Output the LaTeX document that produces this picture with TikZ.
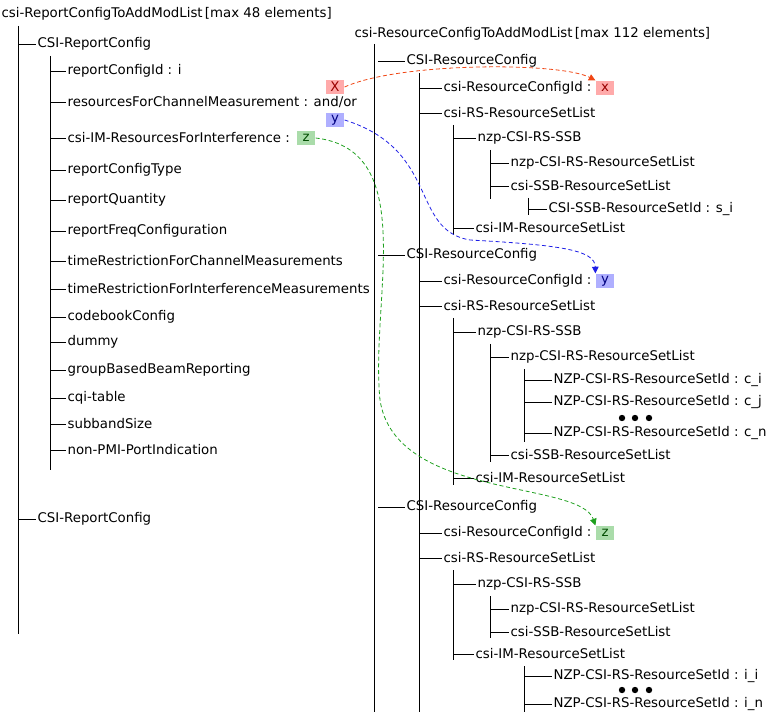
\documentclass[tikz,border=0pt]{standalone}
\usepackage{fontspec}
\setmainfont{DejaVu Sans}
\usetikzlibrary{arrows.meta}
\definecolor{bxr}{RGB}{255,170,170}
\definecolor{bxb}{RGB}{175,175,255}
\definecolor{bxg}{RGB}{170,220,170}
\definecolor{arr}{RGB}{240,70,20}
\definecolor{arb}{RGB}{30,30,230}
\definecolor{arg}{RGB}{30,160,30}
\tikzset{lbl/.style={anchor=west,inner sep=1pt,font=\fontsize{10}{11}\selectfont},
 tree/.style={line width=0.6pt},
 tag/.style={inner sep=1.5pt,minimum width=14pt,minimum height=11pt,font=\fontsize{10}{11}\selectfont},
 link/.style={densely dashed,line width=0.6pt,-{Triangle[length=5pt,width=5pt]}}}
\newcommand\tleaf[5]{\node[lbl] (#1) at (#4,#5) {#2}; \draw[tree] (#3,#5) -- (#1.west);}
\begin{document}
\begin{tikzpicture}[x=0.75pt,y=-0.75pt]
\useasboundingbox (0,0) rectangle (784,712);
% left tree
\node[lbl] (L) at (0,14) {csi-ReportConfigToAddModList\,[max 48 elements]};
\draw[tree] (18,26) -- (18,634);
\draw[tree] (50,56) -- (50,470);
\tleaf{rc1}{CSI-ReportConfig}{18}{36}{44}
\tleaf{l1}{reportConfigId : i}{50}{66}{71}
\tleaf{l2}{resourcesForChannelMeasurement : and/or}{50}{66}{102}
\tleaf{l3}{csi-IM-ResourcesForInterference :}{50}{66}{138}
\tleaf{l4}{reportConfigType}{50}{66}{170}
\tleaf{l5}{reportQuantity}{50}{66}{200}
\tleaf{l6}{reportFreqConfiguration}{50}{66}{231}
\tleaf{l7}{timeRestrictionForChannelMeasurements}{50}{66}{261}
\tleaf{l8}{timeRestrictionForInterferenceMeasurements}{50}{66}{289}
\tleaf{l9}{codebookConfig}{50}{66}{317}
\tleaf{l10}{dummy}{50}{66}{342}
\tleaf{l11}{groupBasedBeamReporting}{50}{66}{370}
\tleaf{l12}{cqi-table}{50}{66}{398}
\tleaf{l13}{subbandSize}{50}{66}{424}
\tleaf{l14}{non-PMI-PortIndication}{50}{66}{450}
\tleaf{rc2}{CSI-ReportConfig}{18}{36}{519}
\node[tag,fill=bxr,text=red!60!black] (xs) at (335,87) {X};
\node[tag,fill=bxb,text=blue!50!black] (ys) at (335,120) {y};
\node[tag,fill=bxg,text=green!30!black] (zs) at (306,138) {z};
% right tree
\node[lbl] (R) at (353,34) {csi-ResourceConfigToAddModList\,[max 112 elements]};
\draw[tree] (374,44) -- (374,712);
\draw[tree] (419,73) -- (419,712);
% group 1
\tleaf{g1}{CSI-ResourceConfig}{378}{405}{61}
\tleaf{g1a}{csi-ResourceConfigId :}{419}{442}{88}
\tleaf{g1b}{csi-RS-ResourceSetList}{419}{442}{113}
\draw[tree] (453,125) -- (453,235);
\tleaf{g1c}{nzp-CSI-RS-SSB}{453}{476}{138}
\draw[tree] (490,150) -- (490,199);
\tleaf{g1d}{nzp-CSI-RS-ResourceSetList}{490}{509}{163}
\tleaf{g1e}{csi-SSB-ResourceSetList}{490}{509}{186}
\draw[tree] (528,198) -- (528,215);
\tleaf{g1f}{CSI-SSB-ResourceSetId : s\_i}{528}{547}{209}
\tleaf{g1g}{csi-IM-ResourceSetList}{453}{474}{228}
% group 2
\tleaf{g2}{CSI-ResourceConfig}{378}{405}{255}
\tleaf{g2a}{csi-ResourceConfigId :}{419}{442}{281}
\tleaf{g2b}{csi-RS-ResourceSetList}{419}{442}{306}
\draw[tree] (453,318) -- (453,485);
\tleaf{g2c}{nzp-CSI-RS-SSB}{453}{476}{332}
\draw[tree] (490,344) -- (490,462);
\tleaf{g2d}{nzp-CSI-RS-ResourceSetList}{490}{509}{357}
\draw[tree] (524,369) -- (524,442);
\tleaf{g2e}{NZP-CSI-RS-ResourceSetId : c\_i}{524}{552}{380}
\tleaf{g2f}{NZP-CSI-RS-ResourceSetId : c\_j}{524}{552}{402}
\tleaf{g2g}{NZP-CSI-RS-ResourceSetId : c\_n}{524}{552}{433}
\foreach \i/\xx in {1/622,2/635,3/649} \fill (\xx,418) circle (3.2);
\tleaf{g2h}{csi-SSB-ResourceSetList}{490}{509}{455}
\tleaf{g2i}{csi-IM-ResourceSetList}{453}{474}{478}
% group 3
\tleaf{g3}{CSI-ResourceConfig}{378}{405}{507}
\tleaf{g3a}{csi-ResourceConfigId :}{419}{442}{533}
\tleaf{g3b}{csi-RS-ResourceSetList}{419}{442}{558}
\draw[tree] (453,570) -- (453,660);
\tleaf{g3c}{nzp-CSI-RS-SSB}{453}{476}{584}
\draw[tree] (490,596) -- (490,638);
\tleaf{g3d}{nzp-CSI-RS-ResourceSetList}{490}{509}{609}
\tleaf{g3e}{csi-SSB-ResourceSetList}{490}{509}{632}
\tleaf{g3f}{csi-IM-ResourceSetList}{453}{474}{654}
\draw[tree] (524,666) -- (524,712);
\tleaf{g3g}{NZP-CSI-RS-ResourceSetId : i\_i}{524}{552}{676}
\tleaf{g3h}{NZP-CSI-RS-ResourceSetId : i\_n}{524}{552}{704}
\foreach \i/\xx in {1/622,2/635,3/649} \fill (\xx,690) circle (3.2);
\node[tag,fill=bxr,text=red!60!black] (xt) at (605,88) {x};
\node[tag,fill=bxb,text=blue!50!black] (yt) at (605,281) {y};
\node[tag,fill=bxg,text=green!30!black] (zt) at (605,533) {z};
% links
\draw[link,arr] (xs.east) .. controls (400,62) and (560,62) .. (xt.north west);
\draw[link,arb] (ys.east) .. controls (440,150) and (410,230) .. (470,240) .. controls (560,245) and (595,250) .. (yt.north west);
\draw[link,arg] (zs.east) .. controls (420,150) and (370,300) .. (380,400) .. controls (395,500) and (580,480) .. (zt.north west);
\end{tikzpicture}
\end{document}
